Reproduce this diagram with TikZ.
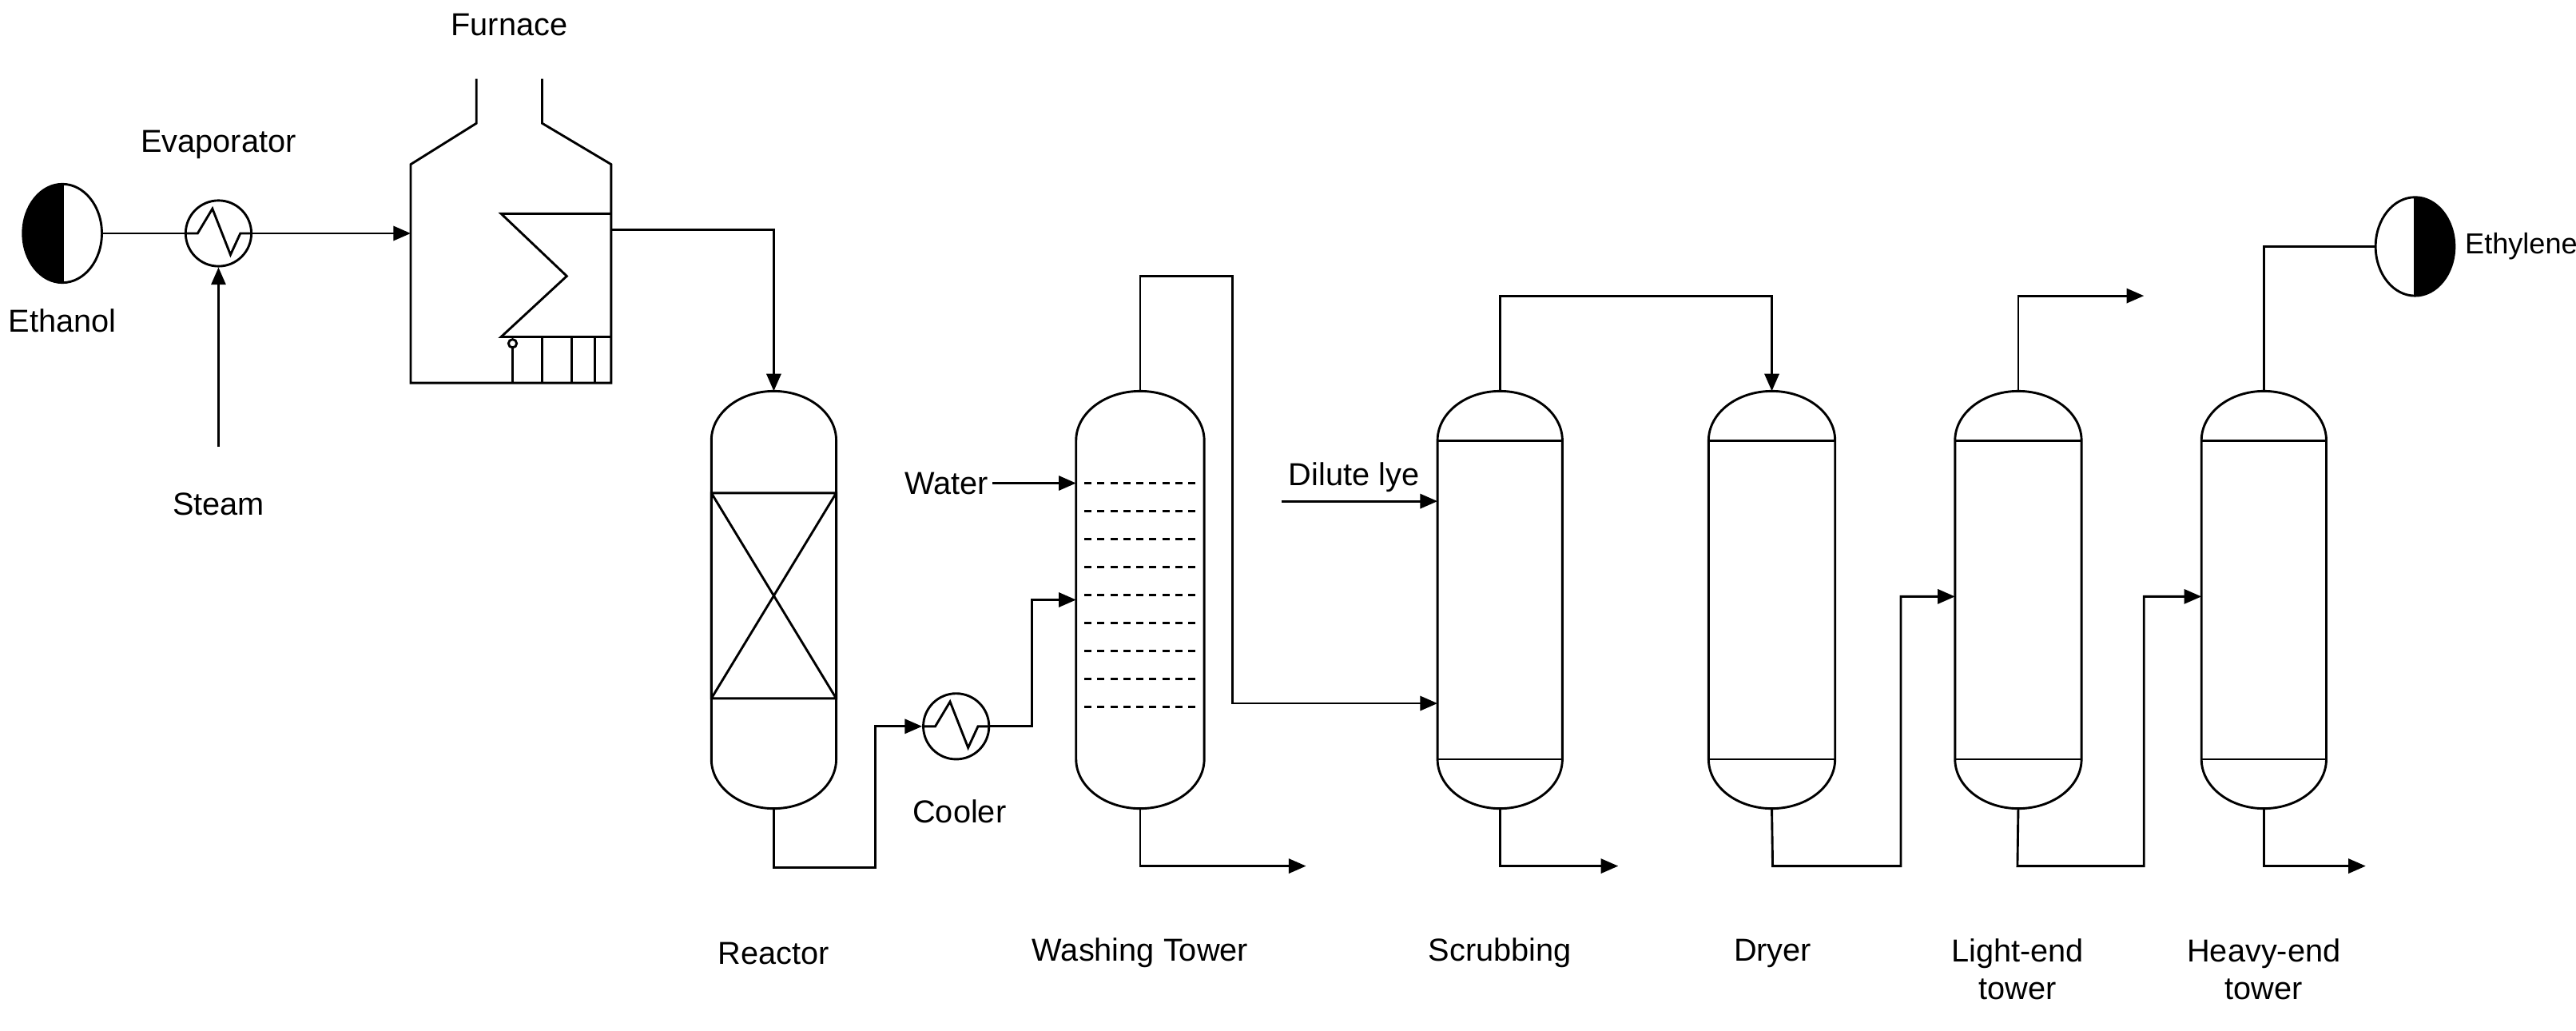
\documentclass[tikz,border=0pt]{standalone}
\usepackage{fontspec}
\setmainfont{Liberation Sans}
\usetikzlibrary{arrows.meta}
\tikzset{
  flow/.style={-{Triangle[length=6pt,width=5pt]}},
  lbl/.style={font=\fontsize{11}{13}\selectfont,align=center,inner sep=1pt},
  tray/.style={dashed,dash pattern=on 2.5pt off 2pt},
}
% vessel: #1 name, #2 left x, #3 right x
\newcommand{\vessel}[3]{%
  \draw (#2,268) arc[start angle=180,end angle=0,x radius={(#3-#2)/2},y radius=-30]
        -- (#3,462) arc[start angle=0,end angle=-180,x radius={(#3-#2)/2},y radius=-30] -- cycle;
  \coordinate (#1-top) at ({(#2+#3)/2},238);
  \coordinate (#1-bot) at ({(#2+#3)/2},492);
  \coordinate (#1-left) at (#2,300);
}
\begin{document}
\begin{tikzpicture}[x=0.02cm,y=-0.02cm,line width=0.8pt]
\useasboundingbox (0,0) rectangle (1568,627);
%%% feed and evaporator
\fill (38,112) arc[start angle=90,end angle=270,x radius=24,y radius=-30] -- cycle;
\draw (38,142) ellipse[x radius=24,y radius=30];
\draw (38,112) -- (38,172);
\coordinate (ethanol) at (62,142);
\node[lbl] (ethanolL) at (38,195) {Ethanol};
\node[draw,circle,minimum size=40*0.02cm,inner sep=0pt] (evap) at (133,142) {};
\draw (evap.west) -- ++(8,0) -- ++(9,-15) -- ++(11,28) -- ++(6,-13) -- (evap.east);
\node[lbl] (evapL) at (133,88) {Evaporator};
\coordinate (steam) at (133,272);
\node[lbl] (steamL) at (133,307) {Steam};
\draw (ethanol) -- (evap.west);
\draw[flow] (steam) -- (evap.south);
%%% furnace
\draw (290,48) -- (290,75) -- (250,100) -- (250,233) -- (372,233) -- (372,100) -- (330,75) -- (330,48);
\draw (372,130) -- (305,130) -- (345,168) -- (305,205) -- (372,205);
\draw (330,205) -- (330,233) (348,205) -- (348,233) (362,205) -- (362,233);
\draw (312,211) -- (312,233);
\draw[fill=white] (312,209) circle[radius=2.5];
\node[lbl] (furnL) at (310,15) {Furnace};
\coordinate (furn-in) at (250,142);
\coordinate (furn-out) at (372,140);
\draw[flow] (evap.east) -- (furn-in);
%%% reactor
\vessel{reac}{433}{509}
\draw (433,300) rectangle (509,425) (433,300) -- (509,425) (509,300) -- (433,425);
\node[lbl] (reacL) at (471,580) {Reactor};
\draw[flow] (furn-out) -| (reac-top);
%%% cooler
\node[draw,circle,minimum size=40*0.02cm,inner sep=0pt] (cool) at (582,442) {};
\draw (cool.west) -- ++(8,0) -- ++(9,-15) -- ++(11,28) -- ++(6,-13) -- (cool.east);
\node[lbl] (coolL) at (584,494) {Cooler};
\draw[flow] (reac-bot) -- (471,528) -- (533,528) |- (cool.west);
%%% washing tower
\vessel{wash}{655}{733}
\foreach \y in {294,311,...,433} \draw[tray] (660,\y) -- (728,\y);
\node[lbl] (washL) at (694,580) {Washing Tower};
\node[lbl,anchor=east] (water) at (604,294) {Water};
\draw[flow] (water) -- (655,294);
\draw[flow] (cool.east) -- (628,442) |- (655,365);
\coordinate (wash-drain) at (795,527);
\draw[flow] (wash-bot) |- (wash-drain);
%%% scrubbing
\vessel{scrub}{875}{951}
\draw (875,268) -- (951,268) (875,462) -- (951,462);
\node[lbl] (scrubL) at (913,580) {Scrubbing};
\draw[flow] (wash-top) -- (694,168) -- (750,168) |- (875,428);
\node[lbl,anchor=south west] (lye) at (782,302) {Dilute lye};
\draw[flow] (780,305) -- (875,305);
\coordinate (scrub-drain) at (985,527);
\draw[flow] (scrub-bot) |- (scrub-drain);
%%% dryer
\vessel{dry}{1040}{1117}
\draw (1040,268) -- (1117,268) (1040,462) -- (1117,462);
\node[lbl] (dryL) at (1079,580) {Dryer};
\draw[flow] (scrub-top) -- (913,180) -| (dry-top);
%%% light-end tower
\vessel{light}{1190}{1267}
\draw (1190,268) -- (1267,268) (1190,462) -- (1267,462);
\node[lbl] (lightL) at (1228,590) {Light-end\\tower};
\draw[flow] (dry-bot) -- (1079,527) -- (1157,527) |- (1190,363);
\coordinate (light-vent) at (1305,180);
\draw[flow] (light-top) |- (light-vent);
%%% heavy-end tower
\vessel{heavy}{1340}{1416}
\draw (1340,268) -- (1416,268) (1340,462) -- (1416,462);
\node[lbl] (heavyL) at (1378,590) {Heavy-end\\tower};
\draw[flow] (light-bot) -- (1228,527) -- (1305,527) |- (1340,363);
\coordinate (heavy-drain) at (1440,527);
\draw[flow] (heavy-bot) |- (heavy-drain);
%%% product
\fill (1470,120) arc[start angle=90,end angle=-90,x radius=24,y radius=-30] -- cycle;
\draw (1470,150) ellipse[x radius=24,y radius=30];
\draw (1470,120) -- (1470,180);
\coordinate (ethylene) at (1446,150);
\draw (heavy-top) |- (ethylene);
\node[lbl,anchor=west,font=\fontsize{10}{12}\selectfont] (ethyleneL) at (1498,150) {Ethylene};
\end{tikzpicture}
\end{document}
